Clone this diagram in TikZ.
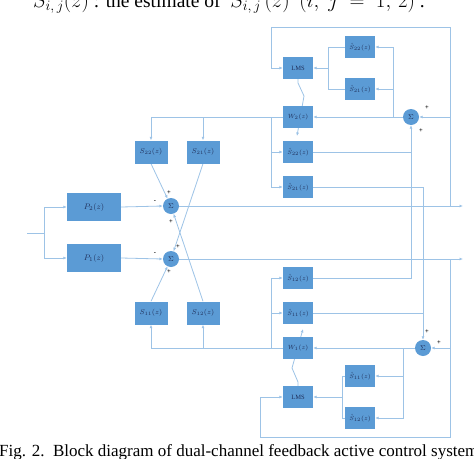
\documentclass[tikz,border=0pt]{standalone}
\usepackage{fontspec}
\setmainfont{Liberation Serif}
\usetikzlibrary{arrows.meta,backgrounds}
\definecolor{boxblue}{HTML}{5B9BD5}
\definecolor{linec}{HTML}{9DC3E6}
\definecolor{txt}{HTML}{1F2F5A}
\begin{document}
\begin{tikzpicture}[x=1pt,y=-1pt,
  blk/.style={draw=none,fill=boxblue,minimum width=30pt,minimum height=22pt,inner sep=0pt,text=txt,font=\fontsize{6.5}{7}\selectfont},
  pbox/.style={blk,minimum width=54pt,minimum height=28pt,font=\fontsize{8.5}{9}\selectfont},
  sbox/.style={blk,minimum width=33pt,minimum height=23pt,font=\fontsize{7.5}{8}\selectfont},
  sumc/.style={circle,fill=boxblue,minimum size=16pt,inner sep=0pt,text=txt,font=\fontsize{7.5}{8}\selectfont},
  sgn/.style={inner sep=0pt,text=black,font=\fontsize{6.5}{7}\selectfont\bfseries},
  wire/.style={draw=linec,line width=0.8pt},
  arr/.style={wire,-{Latex[length=3.5pt,width=3pt]}},
  captop/.style={inner sep=0pt,font=\fontsize{19.5}{22}\selectfont},
  capbot/.style={inner sep=0pt,font=\fontsize{17}{19}\selectfont}]
\useasboundingbox (0,0) rectangle (474,458);
\clip (0,0) rectangle (474,458);
% captions (partly cut off by the frame)
\node[captop,anchor=base west] (ctop) at (33,7) {$S_{i,\,j}(z)$ : the estimate of \ $S_{i,\,j}\,(z)$ \ $(i,\; j\;=\;1,\,2)$ .};
\node[capbot,anchor=base west] (cbot) at (-1,456) {Fig. 2.\ \ Block diagram of dual-channel feedback active control system};
% left blocks
\node[pbox] (P2) at (94,207) {$P_2(z)$};
\node[pbox] (P1) at (94,258) {$P_1(z)$};
\node[sumc] (sA) at (171,206) {$\Sigma$};
\node[sumc] (sB) at (171,259) {$\Sigma$};
\node[sbox] (S22) at (151,152) {$S_{22}(z)$};
\node[sbox] (S21) at (203,152) {$S_{21}(z)$};
\node[sbox] (S11) at (151,313) {$S_{11}(z)$};
\node[sbox] (S12) at (203,313) {$S_{12}(z)$};
% right column, upper
\node[blk] (LMS2) at (298,68) {LMS};
\node[blk] (W2) at (298,117) {$W_2(z)$};
\node[blk] (hS22a) at (298,152) {$\hat{S}_{22}(z)$};
\node[blk] (hS21a) at (298,187) {$\hat{S}_{21}(z)$};
\node[blk] (hS22c) at (360,47) {$\hat{S}_{22}(z)$};
\node[blk] (hS21c) at (360,89) {$\hat{S}_{21}(z)$};
\node[sumc] (sC) at (411,117) {$\Sigma$};
% right column, lower
\node[blk] (hS12b) at (298,278) {$\hat{S}_{12}(z)$};
\node[blk] (hS11b) at (298,313) {$\hat{S}_{11}(z)$};
\node[blk] (W1) at (298,348) {$W_1(z)$};
\node[blk] (LMS1) at (298,397) {LMS};
\node[blk] (hS11d) at (360,376) {$\hat{S}_{11}(z)$};
\node[blk] (hS12d) at (360,418) {$\hat{S}_{12}(z)$};
\node[sumc] (sD) at (423,348) {$\Sigma$};
% signs
\node[sgn] (m1) at (155,202) {-};
\node[sgn] (m2) at (155,254) {-};
\node[sgn] (p1) at (169,193) {+};
\node[sgn] (p2) at (171,222) {+};
\node[sgn] (p3) at (178,247) {+};
\node[sgn] (p4) at (169,272) {+};
\node[sgn] (p5) at (427,108) {+};
\node[sgn] (p6) at (421,131) {+};
\node[sgn] (p7) at (427,332) {+};
\node[sgn] (p8) at (439,343) {+};
% coordinates
\coordinate (in) at (27,233);
\coordinate (br) at (44,233);
\coordinate (outA) at (463,206);
\coordinate (outB) at (463,259);
\coordinate (w2l) at (151,117);
\coordinate (w2m) at (203,117);
\coordinate (b2) at (271,117);
\coordinate (w1l) at (151,348);
\coordinate (w1m) at (203,348);
\coordinate (b1) at (271,348);
\coordinate (j1) at (411,152);
\coordinate (j2) at (423,313);
\coordinate (c1) at (393,117);
\coordinate (c2) at (328,68);
\coordinate (c3) at (403,348);
\coordinate (c4) at (342,397);
\coordinate (e2) at (450,206);
\coordinate (e2t) at (450,27);
\coordinate (l2) at (271,27);
\coordinate (e2s) at (450,117);
\coordinate (e1) at (450,259);
\coordinate (e1b) at (450,437);
\coordinate (l1) at (260,437);
\coordinate (e1s) at (450,348);
\coordinate (k2) at (298,83);
\coordinate (a2s) at (304,96);
\coordinate (a2e) at (297,136);
\coordinate (k1) at (298,382);
\coordinate (a1s) at (292,368);
\coordinate (a1e) at (303,329);
\begin{scope}[on background layer]
\draw[wire] (in) -- (br);
\draw[arr] (br) |- (P2.west);
\draw[arr] (br) |- (P1.west);
\draw[arr] (P2.east) -- (sA.west);
\draw[arr] (P1.east) -- (sB.west);
\draw[arr] (sA.east) -- (outA);
\draw[arr] (sB.east) -- (outB);
\draw[arr] (S22.south) -- (sA);
\draw[arr] (S21.south) -- (sB);
\draw[arr] (S12.north) -- (sA);
\draw[arr] (S11.north) -- (sB);
% W2 output
\draw[wire] (W2.west) -- (w2l);
\draw[arr] (w2l) -- (S22.north);
\draw[arr] (w2m) -- (S21.north);
\draw[arr] (b2) |- (hS22a.west);
\draw[arr] (b2) |- (hS21a.west);
% W1 output
\draw[wire] (W1.west) -- (w1l);
\draw[arr] (w1l) -- (S11.south);
\draw[arr] (w1m) -- (S12.south);
\draw[arr] (b1) |- (hS11b.west);
\draw[arr] (b1) |- (hS12b.west);
% estimates to sums
\draw[wire] (hS22a.east) -- (j1);
\draw[arr] (hS21a.east) -| (sD.north);
\draw[arr] (hS12b.east) -| (sC.south);
\draw[wire] (hS11b.east) -- (j2);
% upper adaptive loop
\draw[arr] (sC.west) -- (W2.east);
\draw[arr] (c1) |- (hS22c.east);
\draw[arr] (c1) |- (hS21c.east);
\draw[wire] (hS22c.west) -| (c2);
\draw[wire] (hS21c.west) -| (c2);
\draw[arr] (c2) -- (LMS2.east);
\draw[arr] (e2) -- (e2t) -- (l2) |- (LMS2.west);
\draw[arr] (e2s) -- (sC.east);
\draw[wire] (LMS2.south) -- (k2) -- (a2s);
\draw[arr] (a2s) -- (a2e);
% lower adaptive loop
\draw[arr] (sD.west) -- (W1.east);
\draw[arr] (c3) |- (hS11d.east);
\draw[arr] (c3) |- (hS12d.east);
\draw[wire] (hS11d.west) -| (c4);
\draw[wire] (hS12d.west) -| (c4);
\draw[arr] (c4) -- (LMS1.east);
\draw[arr] (e1) -- (e1b) -- (l1) |- (LMS1.west);
\draw[arr] (e1s) -- (sD.east);
\draw[wire] (LMS1.north) -- (k1) -- (a1s);
\draw[arr] (a1s) -- (a1e);
\end{scope}
\end{tikzpicture}
\end{document}
